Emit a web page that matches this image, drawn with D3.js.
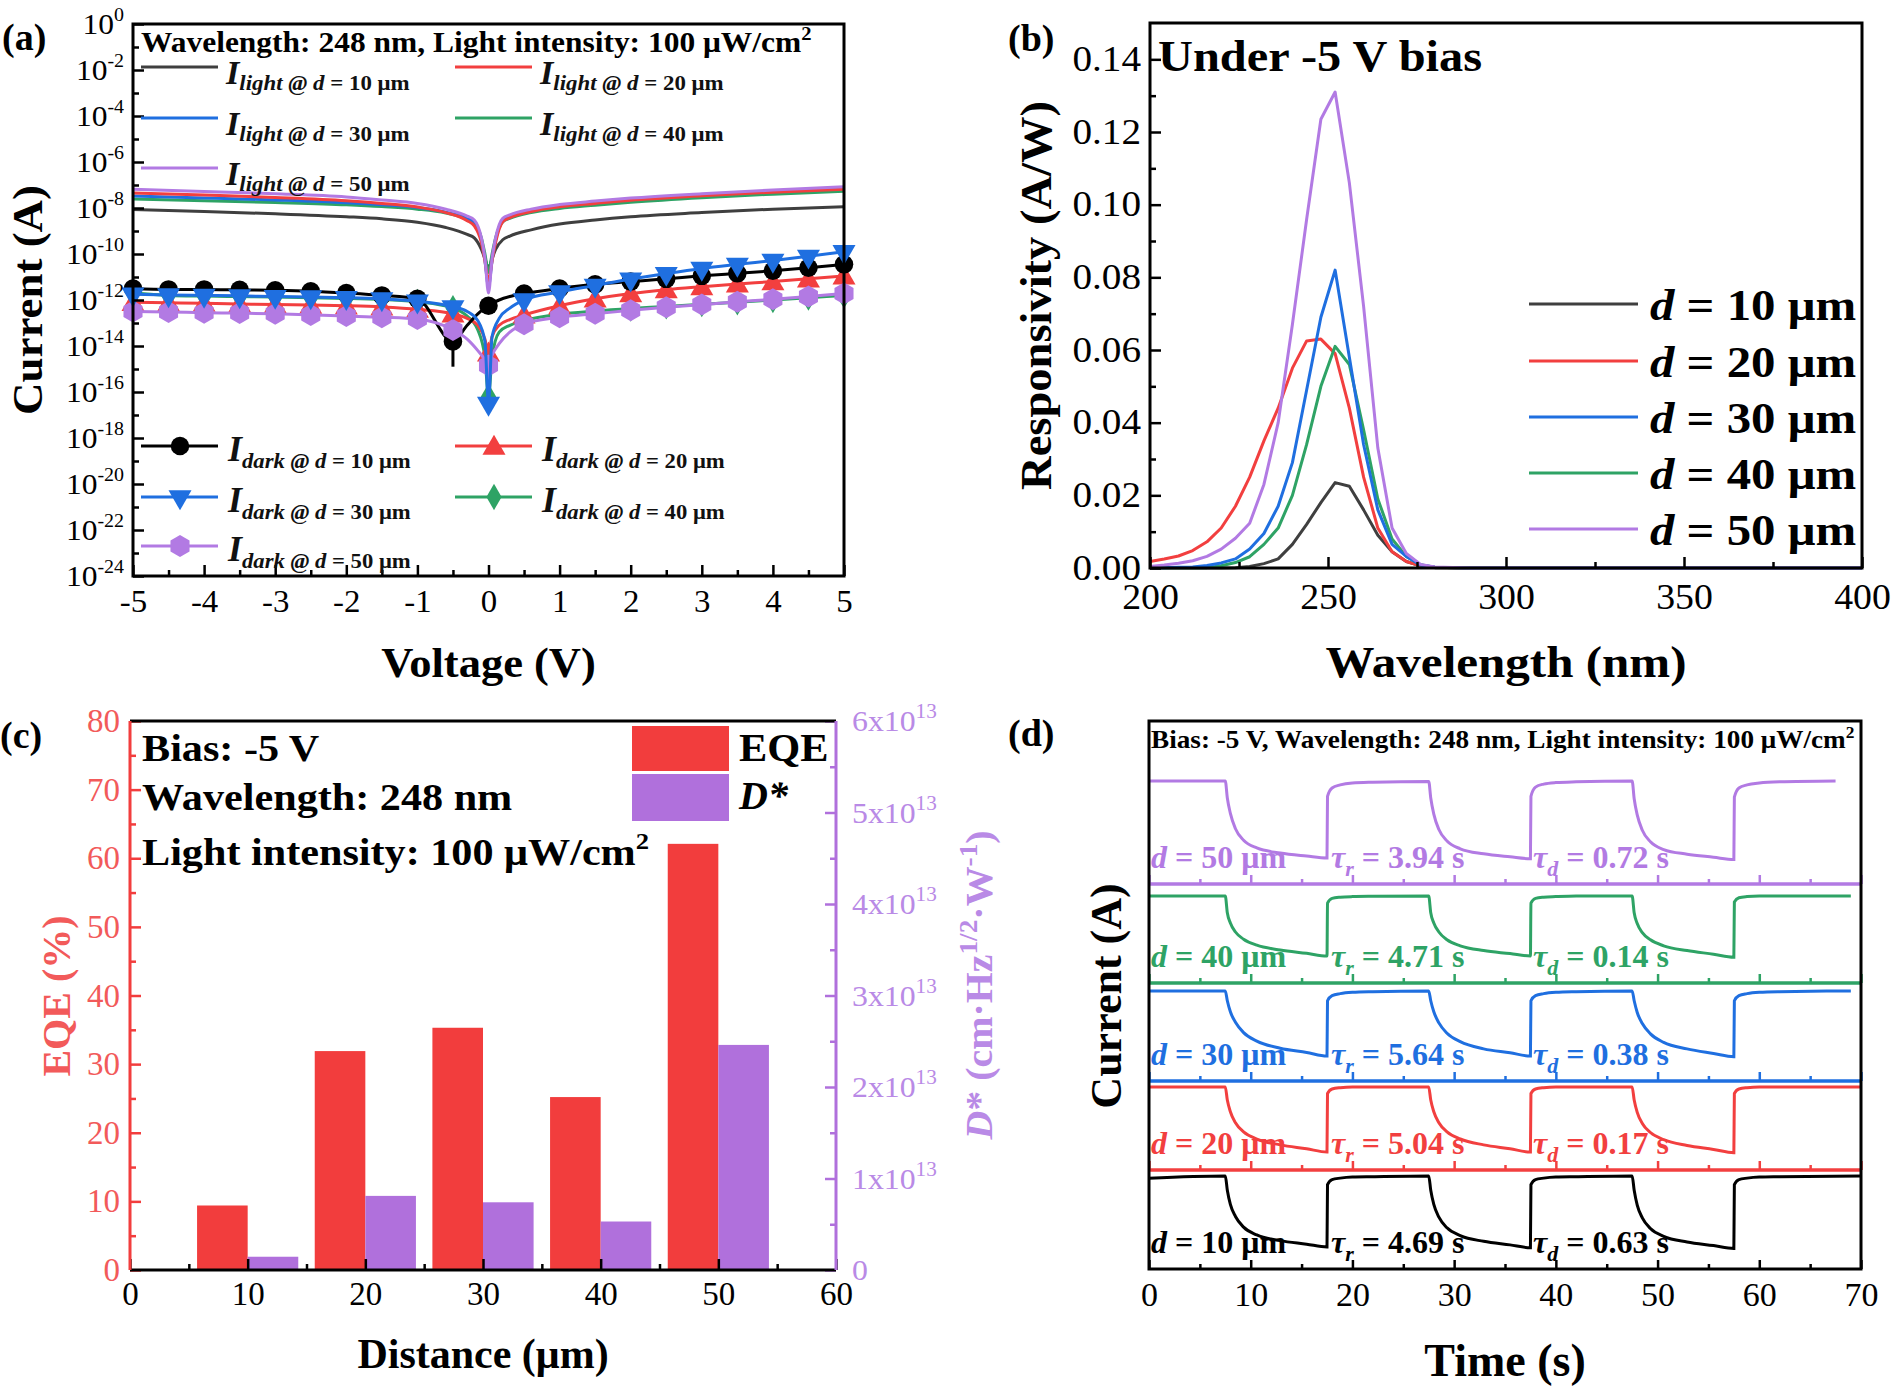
<!DOCTYPE html>
<html>
<head>
<meta charset="utf-8">
<script src="https://cdn.jsdelivr.net/npm/d3@7"></script>
<style>
  body { margin: 0; background: #fff; }
  svg { display: block; font-family: "Liberation Serif", "Times New Roman", serif; font-weight: bold; }
</style>
</head>
<body>
<svg id="fig" width="1904" height="1386"></svg>
<script>
// ---------- data ----------
const gaps = [10, 20, 30, 40, 50];
const colors = ["#000000", "#f23f3f", "#1f6fe0", "#2ea365", "#b27ae3"];
const lineGray = "#3f3f3f";

// (a) I-V, values are log10(I / A)
const lightV = [-5, -4, -3, -2, -1.5, -1, -0.6, -0.3, -0.2, -0.1, -0.05, 0, 0.05, 0.1, 0.2, 0.3, 0.6, 1, 1.5, 2, 3, 4, 5];
const light10 = [-8.07, -8.15, -8.25, -8.38, -8.47, -8.62, -8.85, -9.15, -9.3, -9.8, -10.2, -10.6, -10.2, -9.8, -9.38, -9.22, -8.95, -8.7, -8.52, -8.38, -8.2, -8.05, -7.94];
const light20 = [-7.35, -7.44, -7.54, -7.68, -7.8, -7.96, -8.2, -8.55, -8.78, -9.5, -10.3, -11.2, -10.3, -9.5, -8.6, -8.42, -8.15, -7.95, -7.8, -7.66, -7.47, -7.31, -7.19];
const light30 = [-7.48, -7.56, -7.65, -7.77, -7.86, -7.98, -8.18, -8.45, -8.62, -9.4, -10.3, -11.4, -10.3, -9.4, -8.55, -8.38, -8.1, -7.9, -7.75, -7.62, -7.42, -7.26, -7.14];
const light40 = [-7.61, -7.68, -7.76, -7.86, -7.94, -8.05, -8.22, -8.48, -8.64, -9.3, -10.0, -10.8, -10.0, -9.3, -8.6, -8.45, -8.2, -8.02, -7.88, -7.75, -7.55, -7.4, -7.27];
const light50 = [-7.19, -7.28, -7.38, -7.52, -7.65, -7.8, -8.05, -8.35, -8.52, -9.3, -10.2, -11.7, -10.2, -9.3, -8.45, -8.3, -8.05, -7.85, -7.7, -7.57, -7.38, -7.22, -7.08];

const darkV = [-5, -4.5, -4, -3.5, -3, -2.5, -2, -1.5, -1, -0.5, 0, 0.5, 1, 1.5, 2, 2.5, 3, 3.5, 4, 4.5, 5];
const dark10 = [-11.5, -11.54, -11.54, -11.56, -11.58, -11.62, -11.7, -11.8, -11.95, -13.8, -12.25, -11.72, -11.5, -11.32, -11.2, -11.08, -10.95, -10.84, -10.73, -10.6, -10.45];
const dark20 = [-12.1, -12.12, -12.14, -12.17, -12.2, -12.22, -12.25, -12.3, -12.4, -12.6, -14.3, -12.65, -12.25, -11.95, -11.72, -11.55, -11.42, -11.3, -11.2, -11.08, -10.95];
const dark30 = [-11.75, -11.78, -11.8, -11.82, -11.85, -11.87, -11.9, -11.95, -12.05, -12.3, -16.5, -12.0, -11.65, -11.37, -11.09, -10.85, -10.63, -10.45, -10.28, -10.1, -9.9];
const dark40 = [-11.7, -11.8, -11.83, -11.85, -11.87, -11.9, -11.93, -11.98, -12.08, -12.35, -16.2, -12.9, -12.62, -12.48, -12.37, -12.28, -12.18, -12.1, -12.0, -11.9, -11.8];
const dark50 = [-12.5, -12.52, -12.55, -12.57, -12.6, -12.65, -12.7, -12.75, -12.83, -13.3, -14.85, -13.05, -12.75, -12.6, -12.45, -12.32, -12.2, -12.08, -11.97, -11.85, -11.72];
// line-only points close to 0 V
const darkFineV = [-0.3, -0.15, -0.05, 0.05, 0.15, 0.3];
const darkFine10 = [-13.1, -12.6, -12.35, -12.15, -12.0, -11.85];
const darkFine20 = [-12.8, -13.1, -13.7, -13.6, -13.1, -12.85];
const darkFine30 = [-12.5, -12.9, -13.8, -13.6, -12.8, -12.35];
const darkFine40 = [-12.7, -13.3, -14.5, -14.5, -13.4, -13.1];
const darkFine50 = [-13.7, -14.2, -14.6, -14.4, -13.9, -13.4];
// error bars: [series index, V, low, high]
const darkErr = [[0, -0.5, -14.9, -13.2], [4, 0, -16.1, -14.4]];

// (b) responsivity (A/W)
const wl = [200, 204, 208, 212, 216, 220, 224, 228, 232, 236, 240, 244, 248, 252, 256, 260, 264, 268, 272, 276, 280, 290, 300, 350, 400];
const resp10 = [0, 0, 0, 0, 0, 0, 0.0001, 0.0004, 0.0012, 0.0025, 0.0065, 0.012, 0.018, 0.0235, 0.0225, 0.016, 0.009, 0.0045, 0.0018, 0.0006, 0.0001, 0, 0, 0, 0];
const resp20 = [0.0018, 0.0025, 0.0033, 0.0048, 0.0072, 0.011, 0.017, 0.025, 0.035, 0.044, 0.055, 0.0625, 0.063, 0.059, 0.044, 0.025, 0.011, 0.0045, 0.0018, 0.0006, 0.0002, 0, 0, 0, 0];
const resp30 = [0.0001, 0.0001, 0.0002, 0.0003, 0.0007, 0.0014, 0.0025, 0.0052, 0.0095, 0.017, 0.029, 0.049, 0.069, 0.082, 0.058, 0.034, 0.016, 0.0065, 0.0032, 0.0008, 0.0002, 0, 0, 0, 0];
const resp40 = [0.0001, 0.0001, 0.0001, 0.0001, 0.0001, 0.0006, 0.0015, 0.0031, 0.0065, 0.011, 0.020, 0.034, 0.050, 0.061, 0.056, 0.038, 0.019, 0.008, 0.0032, 0.0009, 0.0002, 0, 0, 0, 0];
const resp50 = [0.0004, 0.0008, 0.0013, 0.002, 0.0032, 0.0052, 0.0082, 0.0123, 0.023, 0.040, 0.067, 0.096, 0.1235, 0.131, 0.106, 0.072, 0.033, 0.011, 0.004, 0.001, 0.0003, 0, 0, 0, 0];

// (c) EQE (%) and D* (Jones)
const distance = [10, 20, 30, 40, 50];
const eqe = [9.4, 31.9, 35.3, 25.2, 62.1];
const dstar = [0.145e13, 0.81e13, 0.74e13, 0.53e13, 2.46e13];

// (d) on/off response, normalised current per device
const tOn = [0, 7.5, 7.7, 8.0, 8.5, 9.3, 10.6, 12.9, 15.5, 17.5, 17.55, 18.0, 18.8, 20.0, 22.0,
  27.5, 27.7, 28.0, 28.5, 29.3, 30.6, 32.9, 35.5, 37.5, 37.55, 38.0, 38.8, 40.0, 42.0,
  47.5, 47.7, 48.0, 48.5, 49.3, 50.6, 52.9, 55.5, 57.5, 57.55, 58.0, 58.8, 60.0, 62.0, 70];
const cur10 = [0.97, 1.0, 0.80, 0.60, 0.43, 0.28, 0.17, 0.09, 0.04, 0.0, 0.88, 0.95, 0.97, 0.985, 0.99,
  1.0, 0.80, 0.60, 0.42, 0.27, 0.16, 0.08, 0.03, -0.01, 0.88, 0.95, 0.97, 0.985, 0.99,
  1.0, 0.80, 0.59, 0.41, 0.26, 0.15, 0.07, 0.02, -0.02, 0.88, 0.95, 0.97, 0.985, 0.99, 1.0];
const cur20 = [1.0, 1.0, 0.80, 0.62, 0.45, 0.31, 0.20, 0.11, 0.05, 0.0, 0.90, 0.97, 0.99, 1.0, 1.0,
  1.0, 0.80, 0.62, 0.45, 0.31, 0.20, 0.11, 0.05, 0.0, 0.90, 0.97, 0.99, 1.0, 1.0,
  1.0, 0.80, 0.61, 0.44, 0.30, 0.19, 0.10, 0.04, -0.01, 0.90, 0.97, 0.99, 1.0, 1.0, 1.0];
const cur30 = [1.0, 1.0, 0.85, 0.68, 0.52, 0.36, 0.23, 0.12, 0.055, 0.0, 0.85, 0.93, 0.96, 0.98, 0.99,
  1.0, 0.85, 0.68, 0.51, 0.35, 0.22, 0.11, 0.05, 0.0, 0.85, 0.93, 0.96, 0.98, 0.99,
  1.0, 0.85, 0.67, 0.50, 0.34, 0.21, 0.11, 0.04, -0.01, 0.85, 0.93, 0.96, 0.98, 0.99, 1.0];
const cur40 = [1.0, 1.0, 0.72, 0.55, 0.40, 0.28, 0.18, 0.10, 0.045, 0.0, 0.88, 0.96, 0.98, 0.99, 0.995,
  1.0, 0.72, 0.55, 0.40, 0.27, 0.17, 0.09, 0.04, 0.0, 0.88, 0.96, 0.98, 0.99, 1.0,
  1.0, 0.72, 0.54, 0.39, 0.27, 0.17, 0.09, 0.03, -0.02, 0.90, 0.97, 0.99, 1.0, 1.0, 1.0];
const cur50 = [1.0, 1.0, 0.78, 0.58, 0.38, 0.23, 0.13, 0.065, 0.025, 0.0, 0.80, 0.91, 0.95, 0.975, 0.985,
  0.995, 0.78, 0.57, 0.37, 0.22, 0.12, 0.055, 0.015, -0.01, 0.80, 0.92, 0.96, 0.98, 0.99,
  1.0, 0.77, 0.56, 0.36, 0.21, 0.11, 0.05, 0.01, -0.02, 0.79, 0.91, 0.95, 0.975, 0.99, 1.0];
const tEnd = [70, 70, 69, 69, 67.5];
const tauR = ["4.69", "5.04", "5.64", "4.71", "3.94"];
const tauD = ["0.63", "0.17", "0.38", "0.14", "0.72"];

// ---------- helpers ----------
const svg = d3.select("#fig");
svg.append("rect").attr("width", 1904).attr("height", 1386).attr("fill", "#fff");

function rich(g, x, y, parts, attrs = {}) {
  const t = g.append("text").attr("x", x).attr("y", y);
  Object.entries(attrs).forEach(([k, v]) => t.attr(k, v));
  parts.forEach(p => {
    const s = t.append("tspan").text(p.t);
    if (p.i) s.attr("font-style", "italic");
    if (p.size) s.attr("font-size", p.size);
    if (p.dy) s.attr("dy", p.dy);
    if (p.w) s.attr("font-weight", p.w);
  });
  return t;
}

// the original figure is a little wider than Times; widen text without making it taller
function stretch(sel, k) {
  sel.each(function() {
    const len = this.getComputedTextLength();
    if (len > 0) d3.select(this).attr("textLength", len * k).attr("lengthAdjust", "spacingAndGlyphs");
  });
  return sel;
}

function styleAxis(g, size, color = "#000") {
  g.attr("font-family", null).attr("font-size", size).attr("font-weight", "normal");
  g.select(".domain").remove();
  g.selectAll(".tick line").attr("stroke", color).attr("stroke-width", 2.5);
  g.selectAll(".tick text").attr("fill", color);
}

function frame(g, b, w = 3) {
  g.append("rect").attr("x", b.l).attr("y", b.t).attr("width", b.r - b.l).attr("height", b.b - b.t)
    .attr("fill", "none").attr("stroke", "#000").attr("stroke-width", w);
}

function marker(g, kind, x, y, color) {
  if (kind === 4) {
    const r = 11;
    const p = d3.range(6).map(k => [x + r * Math.sin(k * Math.PI / 3), y - r * Math.cos(k * Math.PI / 3)]);
    g.append("polygon").attr("points", p.map(q => q.join(",")).join(" ")).attr("fill", color);
    return;
  }
  const types = [d3.symbolCircle, d3.symbolTriangle, d3.symbolTriangle, d3.symbolDiamond];
  const sizes = [270, 230, 230, 200];
  g.append("path").attr("d", d3.symbol().type(types[kind]).size(sizes[kind])())
    .attr("transform", `translate(${x},${y})` + (kind === 2 ? " rotate(180)" : "") + (kind === 1 ? " translate(0,2)" : ""))
    .attr("fill", color);
}

// ---------- (a) ----------
{
  const B = {l: 133, r: 844, t: 24, b: 576};
  const g = svg.append("g");
  const x = d3.scaleLinear().domain([-5, 5]).range([B.l, B.r]);
  const y = d3.scaleLinear().domain([-24, 0]).range([B.b, B.t]);   // log10 axis

  const line = d3.line().x(d => x(d[0])).y(d => y(d[1])).curve(d3.curveMonotoneX);
  const lights = [light10, light20, light30, light40, light50];
  [0, 3, 2, 1, 4].forEach(i => {
    g.append("path").attr("d", line(lightV.map((v, k) => [v, lights[i][k]])))
      .attr("fill", "none").attr("stroke", i === 0 ? lineGray : colors[i]).attr("stroke-width", 3);
  });

  const darks = [dark10, dark20, dark30, dark40, dark50];
  const fines = [darkFine10, darkFine20, darkFine30, darkFine40, darkFine50];
  [3, 1, 0, 4, 2].forEach(i => {
    const pts = darkV.map((v, k) => [v, darks[i][k]])
      .concat(darkFineV.map((v, k) => [v, fines[i][k]]))
      .sort((a, b) => a[0] - b[0]);
    g.append("path").attr("d", line(pts)).attr("fill", "none").attr("stroke", colors[i]).attr("stroke-width", 3);
    darkErr.filter(e => e[0] === i).forEach(e => {
      g.append("line").attr("x1", x(e[1])).attr("x2", x(e[1])).attr("y1", y(e[2])).attr("y2", y(e[3]))
        .attr("stroke", colors[i]).attr("stroke-width", 3);
    });
    darkV.forEach((v, k) => marker(g, i, x(v), y(darks[i][k]), colors[i]));
  });

  // axes
  const gx = g.append("g").attr("transform", `translate(0,${B.b})`)
    .call(d3.axisBottom(x).tickValues(d3.range(-5, 6)).tickFormat(d => String(d)).tickSize(-11).tickPadding(14));
  styleAxis(gx, 31);
  stretch(gx.selectAll(".tick text"), 1.06);
  const gxm = g.append("g").attr("transform", `translate(0,${B.b})`)
    .call(d3.axisBottom(x).tickValues(d3.range(-4.5, 5, 1)).tickFormat("").tickSize(-6));
  styleAxis(gxm, 31);
  const gy = g.append("g").attr("transform", `translate(${B.l},0)`)
    .call(d3.axisLeft(y).tickValues(d3.range(-24, 1, 2)).tickSize(-11).tickPadding(9));
  styleAxis(gy, 30);
  gy.selectAll(".tick text").each(function(d) {
    const t = d3.select(this).text(null);
    t.append("tspan").text("10");
    t.append("tspan").attr("dy", -13).attr("font-size", 19).text(String(d));
  });
  stretch(gy.selectAll(".tick text"), 1.05);
  const gym = g.append("g").attr("transform", `translate(${B.l},0)`)
    .call(d3.axisLeft(y).tickValues(d3.range(-23, 0, 2)).tickFormat("").tickSize(-6));
  styleAxis(gym, 30);
  frame(g, B);

  // texts
  stretch(rich(g, 141, 52, [{t: "Wavelength: 248 nm, Light intensity: 100 μW/cm"}, {t: "2", size: 19, dy: -12}], {"font-size": 29}), 1.085);
  const legX = [141, 455], legRows = [67, 118, 168], darkRows = [446, 497, 546];
  gaps.forEach((d, i) => {
    const cx = legX[i % 2];
    const ly = legRows[Math.floor(i / 2)];
    g.append("line").attr("x1", cx).attr("x2", cx + 77).attr("y1", ly).attr("y2", ly)
      .attr("stroke", i === 0 ? lineGray : colors[i]).attr("stroke-width", 3);
    stretch(rich(g, cx + 85, ly + 17, [{t: "I", i: true, size: 33}, {t: "light @ ", i: true, size: 22, dy: 6},
      {t: "d", i: true, size: 22}, {t: ` = ${d} μm`, size: 22}], {fill: "#111"}), 1.04);
    const dy = darkRows[Math.floor(i / 2)];
    g.append("line").attr("x1", cx).attr("x2", cx + 77).attr("y1", dy).attr("y2", dy)
      .attr("stroke", colors[i]).attr("stroke-width", 3);
    marker(g, i, cx + 39, dy, colors[i]);
    stretch(rich(g, cx + 87, dy + 15, [{t: "I", i: true, size: 35}, {t: "dark @ ", i: true, size: 22, dy: 7},
      {t: "d", i: true, size: 22}, {t: ` = ${d} μm`, size: 22}], {fill: "#111"}), 1.03);
  });

  stretch(g.append("text").attr("transform", `translate(42,${(B.t + B.b) / 2}) rotate(-90)`)
    .attr("text-anchor", "middle").attr("font-size", 43).text("Current (A)"), 1.045);
  stretch(g.append("text").attr("x", (B.l + B.r) / 2).attr("y", 677).attr("text-anchor", "middle")
    .attr("font-size", 43).text("Voltage (V)"), 1.035);
  g.append("text").attr("x", 2).attr("y", 50).attr("font-size", 38).text("(a)");
}

// ---------- (b) ----------
{
  const B = {l: 1150, r: 1862, t: 23, b: 568};
  const g = svg.append("g");
  const x = d3.scaleLinear().domain([200, 400]).range([B.l, B.r]);
  const y = d3.scaleLinear().domain([0, 0.15]).range([B.b, B.t]);
  const line = d3.line().x(d => x(d[0])).y(d => y(d[1]));
  const resp = [resp10, resp20, resp30, resp40, resp50];
  [0, 1, 3, 2, 4].forEach(i => {
    g.append("path").attr("d", line(wl.map((w, k) => [w, resp[i][k]])))
      .attr("fill", "none").attr("stroke", i === 0 ? lineGray : colors[i]).attr("stroke-width", 3)
      .attr("stroke-linejoin", "round");
  });

  const gx = g.append("g").attr("transform", `translate(0,${B.b})`)
    .call(d3.axisBottom(x).tickValues(d3.range(200, 401, 50)).tickSize(-11).tickPadding(16));
  styleAxis(gx, 35);
  stretch(gx.selectAll(".tick text"), 1.08);
  const gxm = g.append("g").attr("transform", `translate(0,${B.b})`)
    .call(d3.axisBottom(x).tickValues(d3.range(225, 400, 50)).tickFormat("").tickSize(-6));
  styleAxis(gxm, 35);
  const gy = g.append("g").attr("transform", `translate(${B.l},0)`)
    .call(d3.axisLeft(y).tickValues(d3.range(0, 0.141, 0.02)).tickFormat(d3.format(".2f")).tickSize(-11).tickPadding(9));
  styleAxis(gy, 35);
  stretch(gy.selectAll(".tick text"), 1.12);
  const gym = g.append("g").attr("transform", `translate(${B.l},0)`)
    .call(d3.axisLeft(y).tickValues(d3.range(0.01, 0.15, 0.02)).tickFormat("").tickSize(-6));
  styleAxis(gym, 35);
  frame(g, B);

  stretch(g.append("text").attr("x", 1158).attr("y", 71).attr("font-size", 44).text("Under -5 V bias"), 1.1);
  const rows = [304, 361, 417, 473, 529];
  gaps.forEach((d, i) => {
    g.append("line").attr("x1", 1529).attr("x2", 1638).attr("y1", rows[i]).attr("y2", rows[i])
      .attr("stroke", i === 0 ? lineGray : colors[i]).attr("stroke-width", 3);
    stretch(rich(g, 1650, rows[i] + 16, [{t: "d", i: true}, {t: ` = ${d} μm`}], {"font-size": 44}), 1.11);
  });
  stretch(g.append("text").attr("transform", `translate(1051,${(B.t + B.b) / 2}) rotate(-90)`)
    .attr("text-anchor", "middle").attr("font-size", 44).text("Responsivity (A/W)"), 1.057);
  stretch(g.append("text").attr("x", (B.l + B.r) / 2).attr("y", 677).attr("text-anchor", "middle")
    .attr("font-size", 45).text("Wavelength (nm)"), 1.09);
  g.append("text").attr("x", 1008).attr("y", 51).attr("font-size", 38).text("(b)");
}

// ---------- (c) ----------
{
  const B = {l: 130, r: 836, t: 721, b: 1270};
  const red = "#f23d3d", purple = "#b070dc", redTxt = "#f25a5a", purpleTxt = "#b98ae6";
  const g = svg.append("g");
  const x = d3.scaleLinear().domain([0, 60]).range([B.l, B.r]);
  const yE = d3.scaleLinear().domain([0, 80]).range([B.b, B.t]);
  const yD = d3.scaleLinear().domain([0, 6e13]).range([B.b, B.t]);
  const bw = 4.3;
  distance.forEach((d, i) => {
    g.append("rect").attr("x", x(d - bw)).attr("width", x(d) - x(d - bw)).attr("y", yE(eqe[i]))
      .attr("height", yE(0) - yE(eqe[i])).attr("fill", red);
    g.append("rect").attr("x", x(d)).attr("width", x(d + bw) - x(d)).attr("y", yD(dstar[i]))
      .attr("height", yD(0) - yD(dstar[i])).attr("fill", purple);
  });

  const gx = g.append("g").attr("transform", `translate(0,${B.b})`)
    .call(d3.axisBottom(x).tickValues(d3.range(0, 61, 10)).tickSize(-11).tickPadding(12));
  styleAxis(gx, 33);
  const gxm = g.append("g").attr("transform", `translate(0,${B.b})`)
    .call(d3.axisBottom(x).tickValues(d3.range(5, 60, 10)).tickFormat("").tickSize(-6));
  styleAxis(gxm, 33);
  const gy = g.append("g").attr("transform", `translate(${B.l},0)`)
    .call(d3.axisLeft(yE).tickValues(d3.range(0, 81, 10)).tickSize(-11).tickPadding(10));
  styleAxis(gy, 33, red);
  gy.selectAll(".tick text").attr("fill", redTxt);
  const gym = g.append("g").attr("transform", `translate(${B.l},0)`)
    .call(d3.axisLeft(yE).tickValues(d3.range(5, 80, 10)).tickFormat("").tickSize(-6));
  styleAxis(gym, 33, red);
  const gr = g.append("g").attr("transform", `translate(${B.r},0)`)
    .call(d3.axisRight(yD).tickValues(d3.range(0, 6.1e13, 1e13)).tickSize(-11).tickPadding(16));
  styleAxis(gr, 30, purple);
  gr.selectAll(".tick text").attr("fill", purpleTxt).each(function(d) {
    if (d === 0) return;
    const t = d3.select(this).text(null);
    t.append("tspan").text(`${Math.round(d / 1e13)}x10`);
    t.append("tspan").attr("dy", -13).attr("font-size", 20).text("13");
  });
  stretch(gr.selectAll(".tick text"), 1.06);
  const grm = g.append("g").attr("transform", `translate(${B.r},0)`)
    .call(d3.axisRight(yD).tickValues(d3.range(0.5e13, 6e13, 1e13)).tickFormat("").tickSize(-6));
  styleAxis(grm, 30, purple);

  g.append("line").attr("x1", B.l).attr("x2", B.r).attr("y1", B.t).attr("y2", B.t).attr("stroke", "#000").attr("stroke-width", 3);
  g.append("line").attr("x1", B.l).attr("x2", B.r).attr("y1", B.b).attr("y2", B.b).attr("stroke", "#000").attr("stroke-width", 3);
  g.append("line").attr("x1", B.l).attr("x2", B.l).attr("y1", B.t).attr("y2", B.b).attr("stroke", red).attr("stroke-width", 3);
  g.append("line").attr("x1", B.r).attr("x2", B.r).attr("y1", B.t).attr("y2", B.b).attr("stroke", purple).attr("stroke-width", 3);

  stretch(g.append("text").attr("x", 142).attr("y", 761).attr("font-size", 38).text("Bias: -5 V"), 1.11);
  stretch(g.append("text").attr("x", 142).attr("y", 810).attr("font-size", 38).text("Wavelength: 248 nm"), 1.11);
  stretch(rich(g, 142, 865, [{t: "Light intensity: 100 μW/cm"}, {t: "2", size: 24, dy: -16}], {"font-size": 38}), 1.11);
  g.append("rect").attr("x", 632).attr("y", 726).attr("width", 97).attr("height", 45).attr("fill", red);
  g.append("rect").attr("x", 632).attr("y", 774).attr("width", 97).attr("height", 47).attr("fill", purple);
  stretch(g.append("text").attr("x", 739).attr("y", 761).attr("font-size", 40).text("EQE"), 1.06);
  rich(g, 739, 809, [{t: "D", i: true}, {t: "*", i: true}], {"font-size": 40});

  g.append("text").attr("transform", `translate(70,996) rotate(-90)`).attr("text-anchor", "middle")
    .attr("font-size", 40).attr("fill", redTxt).text("EQE (%)");
  stretch(rich(g, 0, 0, [{t: "D", i: true}, {t: "* (cm·Hz"}, {t: "1/2", size: 26, dy: -15}, {t: "·W", size: 38, dy: 15},
    {t: "-1", size: 26, dy: -15}, {t: ")", size: 38, dy: 15}],
    {transform: "translate(992,985) rotate(-90)", "text-anchor": "middle", "font-size": 38, fill: purpleTxt}), 1.05);
  g.append("text").attr("x", (B.l + B.r) / 2).attr("y", 1368).attr("text-anchor", "middle")
    .attr("font-size", 42).text("Distance (μm)");
  g.append("text").attr("x", 0).attr("y", 748).attr("font-size", 38).text("(c)");
}

// ---------- (d) ----------
{
  const B = {l: 1149, r: 1861, t: 721, b: 1269};
  const g = svg.append("g");
  const x = d3.scaleLinear().domain([0, 70]).range([B.l, B.r]);
  // per device: baseline (its own x axis), offsets of low and high current above it
  const axisY = [1269, 1170, 1081, 983, 884];
  const lowOff = [22, 18, 25, 27, 26];
  const highOff = [93, 83, 90, 87, 103];
  const cur = [cur10, cur20, cur30, cur40, cur50];

  gaps.forEach((d, i) => {
    const y = d3.scaleLinear().domain([0, 1]).range([axisY[i] - lowOff[i], axisY[i] - highOff[i]]);
    const line = d3.line().x(p => x(p[0])).y(p => y(p[1])).curve(d3.curveMonotoneX);
    const pts = tOn.map((t, k) => [Math.min(t, tEnd[i]), cur[i][k]]);
    g.append("path").attr("d", line(pts)).attr("fill", "none").attr("stroke", colors[i]).attr("stroke-width", 3);

    const ga = g.append("g").attr("transform", `translate(0,${axisY[i]})`)
      .call(d3.axisBottom(x).tickValues(d3.range(0, 71, 10)).tickFormat(i === 0 ? null : "").tickSize(-9).tickPadding(13));
    styleAxis(ga, 34, colors[i]);
    ga.selectAll(".tick text").attr("fill", "#000");
    const gm = g.append("g").attr("transform", `translate(0,${axisY[i]})`)
      .call(d3.axisBottom(x).tickValues(d3.range(5, 70, 10)).tickFormat("").tickSize(-5));
    styleAxis(gm, 34, colors[i]);
    if (i > 0) {
      g.append("line").attr("x1", B.l).attr("x2", B.r).attr("y1", axisY[i]).attr("y2", axisY[i])
        .attr("stroke", colors[i]).attr("stroke-width", 3.5);
    }
    const by = axisY[i] - 16;
    rich(g, 1151, by, [{t: "d", i: true}, {t: ` = ${d} μm`}], {"font-size": 32, fill: colors[i]});
    rich(g, 1331, by, [{t: "τ", i: true}, {t: "r", i: true, size: 22, dy: 8}, {t: ` = ${tauR[i]} s`, size: 32, dy: -8}],
      {"font-size": 32, fill: colors[i]});
    rich(g, 1533, by, [{t: "τ", i: true}, {t: "d", i: true, size: 22, dy: 8}, {t: ` = ${tauD[i]} s`, size: 32, dy: -8}],
      {"font-size": 32, fill: colors[i]});
  });
  frame(g, B);

  stretch(rich(g, 1151, 748, [{t: "Bias: -5 V, Wavelength: 248 nm, Light intensity: 100 μW/cm"}, {t: "2", size: 16, dy: -10}],
    {"font-size": 25}), 1.088);
  g.append("text").attr("transform", `translate(1121,996) rotate(-90)`).attr("text-anchor", "middle")
    .attr("font-size", 44).text("Current (A)");
  g.append("text").attr("x", (B.l + B.r) / 2).attr("y", 1376).attr("text-anchor", "middle")
    .attr("font-size", 46).text("Time (s)");
  g.append("text").attr("x", 1008).attr("y", 746).attr("font-size", 38).text("(d)");
}
</script>
</body>
</html>
